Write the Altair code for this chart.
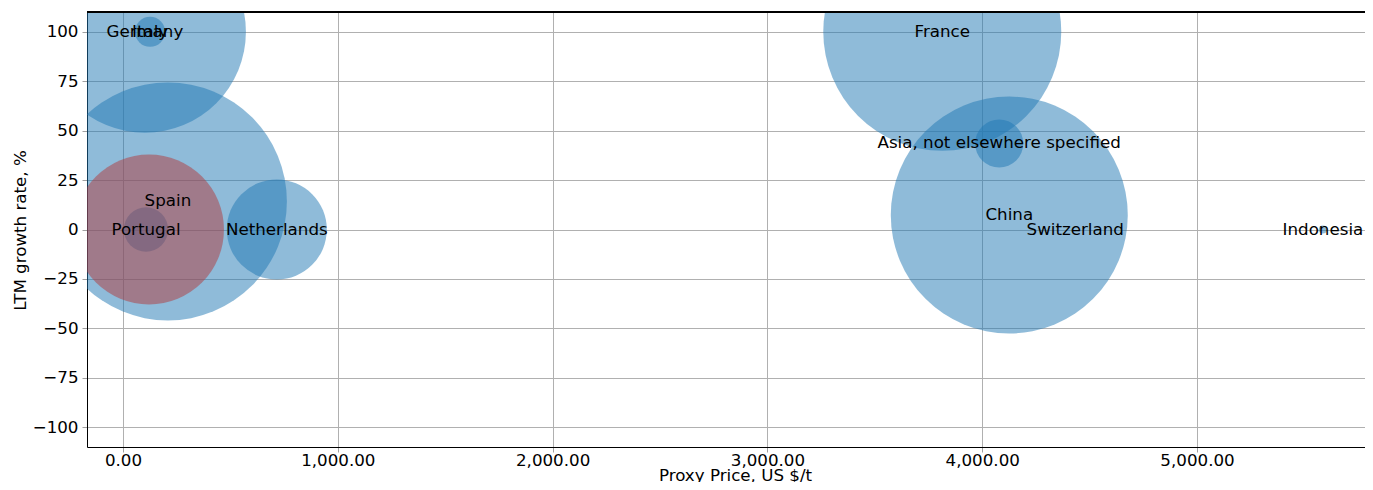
import altair as alt
import pandas as pd

# ---- data ----
countries = ["Germany", "Italy", "Spain", "Portugal", "Netherlands", "France",
             "Asia, not elsewhere specified", "China", "Switzerland", "Indonesia",
             "Reporter"]
proxy_price = [102, 126, 209, 107, 716, 3814, 4079, 4126, 4433, 5586, 121]
ltm_growth = [100, 100, 14.2, 0, 0, 100, 43.5, 7.3, 0, 0, 0]
trade_volume = [10200, 225, 14160, 490, 2500, 14160, 580, 14040, 0, 16, 5620]
group = ["partner"] * 10 + ["reporter"]
show_label = [True] * 10 + [False]

x_ticks = [0, 1000, 2000, 3000, 4000, 5000]
y_ticks = [-100, -75, -50, -25, 0, 25, 50, 75, 100]

df = pd.DataFrame({
    "country": countries,
    "price": proxy_price,
    "growth": ltm_growth,
    "volume": trade_volume,
    "group": group,
    "show": show_label,
})

W, H = 1278, 435
FONT = "DejaVu Sans"
FS = 16.7

x_enc = alt.X("price:Q",
              scale=alt.Scale(domain=[-167.6, 5782], nice=False, zero=False),
              axis=alt.Axis(values=x_ticks, format=",.2f", title="Proxy Price, US $/t",
                            grid=True, gridColor="#b0b0b0", gridWidth=1,
                            domainColor="black", domainWidth=1,
                            tickColor="#a0a0a0", tickSize=5,
                            labelFont=FONT, labelFontSize=FS, labelColor="black",
                            labelBaseline="alphabetic", labelPadding=13,
                            titleFont=FONT, titleFontSize=FS, titleFontWeight="normal",
                            titleColor="black", titleX=648, titleY=33,
                            titleAlign="center", titleBaseline="alphabetic"))
y_enc = alt.Y("growth:Q",
              scale=alt.Scale(domain=[-110, 110], nice=False, zero=False),
              axis=alt.Axis(values=y_ticks, format="d", title="LTM growth rate, %",
                            grid=True, gridColor="#b0b0b0", gridWidth=1,
                            domainColor="black", domainWidth=1,
                            tickColor="#a0a0a0", tickSize=5,
                            labelFont=FONT, labelFontSize=FS, labelColor="black",
                            labelPadding=4,
                            titleFont=FONT, titleFontSize=FS, titleFontWeight="normal",
                            titleColor="black", titleX=-67, titleY=218,
                            titleAngle=-90, titleAlign="center", titleBaseline="middle"))

bubbles = alt.Chart(df).mark_circle(opacity=0.5, clip=True).encode(
    x=x_enc,
    y=y_enc,
    size=alt.Size("volume:Q", scale=alt.Scale(domain=[0, 14160], range=[0, 56640], zero=True),
                  legend=None),
    color=alt.Color("group:N", scale=alt.Scale(domain=["partner", "reporter"],
                                               range=["#1f77b4", "#b1393b"]),
                    legend=None),
    order=alt.Order("order_idx:Q"),
).transform_window(order_idx="row_number()")

labels = alt.Chart(df).transform_filter("datum.show").mark_text(
    font=FONT, fontSize=FS, color="black", align="center", baseline="middle", clip=True
).encode(
    x=alt.X("price:Q"),
    y=alt.Y("growth:Q"),
    text="country:N",
)

top_spine = alt.Chart(df).mark_rule(color="black", strokeWidth=1).encode(
    x=alt.value(0), x2=alt.value(W), y=alt.value(0)
)

chart = alt.layer(bubbles, labels, top_spine).properties(
    width=W, height=H,
    autosize=alt.AutoSizeParams(type="none"),
    padding={"left": 79, "top": 4, "right": 0, "bottom": 35},
).configure_view(stroke=None)

chart.save("out.html", embed_options={"renderer": "svg", "actions": False})
